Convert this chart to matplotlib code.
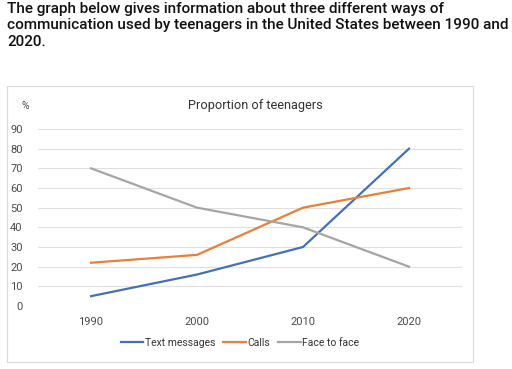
"""Line chart: teenage communication methods, 1990-2020."""
import matplotlib.pyplot as plt
from matplotlib.patches import Rectangle

years = ["1990", "2000", "2010", "2020"]
text_messages = [5, 16, 30, 80]
calls = [22, 26, 50, 60]
face_to_face = [70, 50, 40, 20]
y_ticks = [0, 10, 20, 30, 40, 50, 60, 70, 80, 90]

W, H = 512, 369
plt.rcParams["font.family"] = ["Roboto", "DejaVu Sans"]

fig = plt.figure(figsize=(W / 100, H / 100), dpi=100)


def fx(px):
    return px / W


def fy(py):
    return 1 - py / H


# heading text
fig.text(fx(7), fy(2), "The graph below gives information about three different ways of\n"
         "communication used by teenagers in the United States between 1990 and\n"
         "2020.", ha="left", va="top", fontsize=11, color="#111111",
         fontweight="medium", linespacing=1.22)

# chart frame
fig.patches.append(Rectangle((fx(7), fy(362)), fx(473) - fx(7), fy(86) - fy(362),
                             transform=fig.transFigure, fill=False,
                             edgecolor="#DADADA", linewidth=0.8))

ax = fig.add_axes([fx(38), fy(306), fx(462) - fx(38), fy(129) - fy(306)])
x = range(len(years))
ax.plot(x, text_messages, color="#4470B8", lw=1.6, label="Text messages")
ax.plot(x, calls, color="#E8803A", lw=1.6, label="Calls")
ax.plot(x, face_to_face, color="#A5A5A5", lw=1.6, label="Face to face")

ax.set_xlim(-0.5, len(years) - 0.5)
ax.set_ylim(0, 90)
ax.set_yticks(y_ticks)
ax.set_xticks(list(x))
ax.set_xticklabels(years)
ax.tick_params(length=0, labelsize=8, labelcolor="#4A4A4A")
ax.tick_params(axis="y", pad=11)
ax.tick_params(axis="x", pad=8)
ax.grid(axis="y", color="#E0E0E0", lw=0.8)
ax.set_axisbelow(True)
for s in ax.spines.values():
    s.set_visible(False)

fig.text(fx(25), fy(106), "%", ha="center", va="center", fontsize=7.5, color="#4A4A4A")
fig.text(fx(255), fy(106), "Proportion of teenagers", ha="center", va="center",
         fontsize=9.2, color="#333333")

fig.legend(loc="center", bbox_to_anchor=(fx(240), fy(343)), ncol=3, frameon=False,
           fontsize=7.5, handlelength=2.2, handletextpad=0.1, columnspacing=0.8,
           labelcolor="#333333")

fig.savefig("out.png", dpi=100, facecolor="white")
